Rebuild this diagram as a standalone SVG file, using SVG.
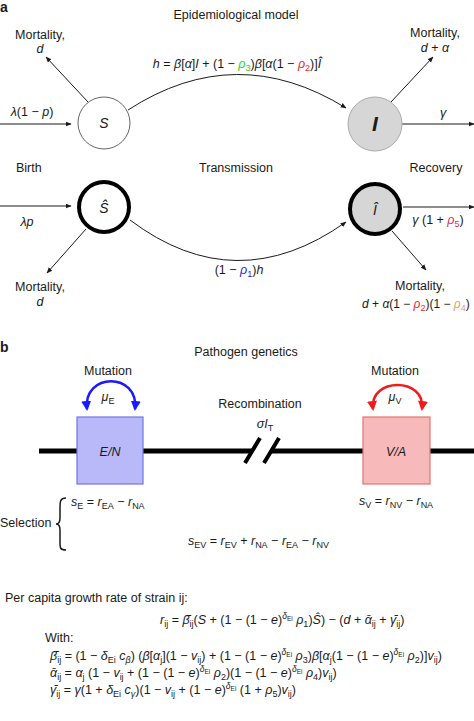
<svg xmlns="http://www.w3.org/2000/svg" width="474" height="721" viewBox="0 0 474 721">
<style>
text{font-family:"Liberation Sans",Arial,sans-serif;font-size:12.5px;fill:#1a1a1a}
.i{font-style:italic}
.n{font-style:normal}
.b{font-weight:bold;font-size:14px}
.m{text-anchor:middle}
.e{text-anchor:end}
.sb{font-size:9px;baseline-shift:-3px}
.sp{font-size:8.5px;baseline-shift:5px}
.sb2{font-size:6.5px;baseline-shift:-2px;font-style:normal}
.c{fill:none;stroke:#1a1a1a;stroke-width:1}
.g{fill:#2bd12b}.r{fill:#e8262e}.bl{fill:#2a2ad0}.p5{fill:#d0306a}.p4{fill:#e0a060}
</style>
<defs>
<marker id="ah" viewBox="0 0 10 10" refX="9" refY="5" markerWidth="6" markerHeight="6" markerUnits="userSpaceOnUse" orient="auto"><path d="M0,1 L10,5 L0,9 z" fill="#1a1a1a"/></marker>
<marker id="ab" viewBox="0 0 10 10" refX="8" refY="5" markerWidth="4" markerHeight="4" orient="auto-start-reverse"><path d="M0,0 L10,5 L0,10 z" fill="#1a1aff"/></marker>
<marker id="ar" viewBox="0 0 10 10" refX="8" refY="5" markerWidth="4" markerHeight="4" orient="auto-start-reverse"><path d="M0,0 L10,5 L0,10 z" fill="#ee1c1c"/></marker>
</defs>

<!-- Panel a -->
<text x="0" y="12" class="b">a</text>
<text x="236" y="19" class="m">Epidemiological model</text>
<text x="16" y="172">Birth</text>
<text x="236" y="172" class="m">Transmission</text>
<text x="436" y="172" class="m">Recovery</text>

<g id="connectors">
<path class="c" d="M0,124 L71,124" marker-end="url(#ah)"/>
<path class="c" d="M88,102 L46,57" marker-end="url(#ah)"/>
<path class="c" d="M128,110 Q236,40 346,108" marker-end="url(#ah)"/>
<path class="c" d="M391,102 L433,57" marker-end="url(#ah)"/>
<path class="c" d="M402,124 L474,124" marker-end="url(#ah)"/>
<path class="c" d="M0,206 L71,206" marker-end="url(#ah)"/>
<path class="c" d="M86,229 L47,273" marker-end="url(#ah)"/>
<path class="c" d="M130,220 Q236,300 346,222" marker-end="url(#ah)"/>
<path class="c" d="M403,207 L474,207" marker-end="url(#ah)"/>
<path class="c" d="M392,231 L426,270" marker-end="url(#ah)"/>
</g>

<g id="S"><circle cx="104" cy="123" r="26" fill="#fff" stroke="#666" stroke-width="1"/><text x="104" y="128" class="m i" style="font-size:14px">S</text></g>
<g id="I"><circle cx="375" cy="124" r="27" fill="#d6d6d6" stroke="#aaa" stroke-width="1"/><text x="375" y="131" class="m i" style="font-size:21px;font-weight:bold">I</text></g>
<g id="Shat"><circle cx="104" cy="207" r="25" fill="#fff" stroke="#000" stroke-width="4"/><text x="104" y="213" class="m i" style="font-size:14px">Ŝ</text></g>
<g id="Ihat"><circle cx="375" cy="209" r="25" fill="#d6d6d6" stroke="#000" stroke-width="4"/><text x="375" y="215" class="m i" style="font-size:14px">Î</text></g>

<text x="40" y="39" class="m">Mortality,</text>
<text x="40" y="53" class="m i">d</text>
<text x="32" y="116" class="m"><tspan class="i">λ</tspan>(1 − <tspan class="i">p</tspan>)</text>
<text x="237" y="68" class="m"><tspan class="i">h</tspan> = <tspan class="i">β</tspan>[<tspan class="i">α</tspan>]<tspan class="i">I</tspan> + (1 − <tspan class="i g">ρ</tspan><tspan class="sb g">3</tspan>)<tspan class="i">β</tspan>[<tspan class="i">α</tspan>(1 − <tspan class="i r">ρ</tspan><tspan class="sb r">2</tspan>)]<tspan class="i">Î</tspan></text>
<text x="435" y="37" class="m">Mortality,</text>
<text x="435" y="52" class="m"><tspan class="i">d</tspan> + <tspan class="i">α</tspan></text>
<text x="443" y="117" class="m i">γ</text>
<text x="27" y="226" class="m"><tspan class="i">λp</tspan></text>
<text x="40" y="291" class="m">Mortality,</text>
<text x="40" y="306" class="m i">d</text>
<text x="239" y="274" class="m">(1 − <tspan class="i bl">ρ</tspan><tspan class="sb bl">1</tspan>)<tspan class="i">h</tspan></text>
<text x="438" y="224" class="m"><tspan class="i">γ</tspan> (1 + <tspan class="i p5">ρ</tspan><tspan class="sb p5">5</tspan>)</text>
<text x="420" y="290" class="m">Mortality,</text>
<text x="362" y="308" style="font-size:12px"><tspan class="i">d</tspan> + <tspan class="i">α</tspan>(1 − <tspan class="i r">ρ</tspan><tspan class="sb r">2</tspan>)(1 − <tspan class="i p4">ρ</tspan><tspan class="sb p4">4</tspan>)</text>

<!-- Panel b -->
<text x="0" y="352" class="b">b</text>
<text x="246" y="356" class="m">Pathogen genetics</text>
<text x="108" y="375" class="m">Mutation</text>
<text x="395" y="375" class="m">Mutation</text>
<text x="260" y="408" class="m">Recombination</text>

<g id="chromosome">
<path d="M39,451 L253,451 M271,451 L474,451" stroke="#000" stroke-width="5" fill="none"/>
<path d="M245,463 L260,438 M264,463 L279,438" stroke="#000" stroke-width="4" fill="none"/>
</g>
<text x="265" y="428" class="m"><tspan class="i">σI</tspan><tspan class="sb">T</tspan></text>

<g id="mutE">
<path d="M87,409 C83,372 139,372 135,409" fill="none" stroke="#1a1aff" stroke-width="2.5" marker-start="url(#ab)" marker-end="url(#ab)"/>
<text x="108" y="401" class="m"><tspan class="i">μ</tspan><tspan class="sb">E</tspan></text>
</g>
<g id="EN"><rect x="77" y="417" width="66" height="67" fill="#b9b9f9" stroke="#7272e4" stroke-width="1.2"/><text x="110" y="456" class="m i">E/N</text></g>

<g id="mutV">
<path d="M373,409 C369,377 426,377 422,409" fill="none" stroke="#ee1c1c" stroke-width="2.5" marker-start="url(#ar)" marker-end="url(#ar)"/>
<text x="395" y="401" class="m"><tspan class="i">μ</tspan><tspan class="sb">V</tspan></text>
</g>
<g id="VA"><rect x="363" y="417" width="67" height="67" fill="#f7b9b9" stroke="#e47272" stroke-width="1.2"/><text x="396" y="456" class="m i">V/A</text></g>

<text x="0" y="527">Selection</text>
<path d="M66,498 C60,498 60,502 60,508 L60,518 C60,522 58,524 56,524 C58,524 60,526 60,530 L60,542 C60,548 60,550 66,550" fill="none" stroke="#1a1a1a" stroke-width="1.5"/>
<text x="71" y="506"><tspan class="i">s</tspan><tspan class="sb">E</tspan> = <tspan class="i">r</tspan><tspan class="sb">EA</tspan> − <tspan class="i">r</tspan><tspan class="sb">NA</tspan></text>
<text x="359" y="505"><tspan class="i">s</tspan><tspan class="sb">V</tspan> = <tspan class="i">r</tspan><tspan class="sb">NV</tspan> − <tspan class="i">r</tspan><tspan class="sb">NA</tspan></text>
<text x="188" y="545"><tspan class="i">s</tspan><tspan class="sb">EV</tspan> = <tspan class="i">r</tspan><tspan class="sb">EV</tspan> + <tspan class="i">r</tspan><tspan class="sb">NA</tspan> − <tspan class="i">r</tspan><tspan class="sb">EA</tspan> − <tspan class="i">r</tspan><tspan class="sb">NV</tspan></text>

<text x="5" y="602">Per capita growth rate of strain ij:</text>
<text x="160" y="624"><tspan class="i">r</tspan><tspan class="sb">ij</tspan> = <tspan class="i">β̄</tspan><tspan class="sb">ij</tspan>(<tspan class="i">S</tspan> + (1 − (1 − <tspan class="i">e</tspan>)<tspan class="sp i">δ<tspan class="sb2">Ei</tspan></tspan> <tspan class="i">ρ</tspan><tspan class="sb">1</tspan>)<tspan class="i">Ŝ</tspan>) − (<tspan class="i">d</tspan> + <tspan class="i">ᾱ</tspan><tspan class="sb">ij</tspan> + <tspan class="i">γ̄</tspan><tspan class="sb">ij</tspan>)</text>
<text x="45" y="642">With:</text>
<text x="50" y="660"><tspan class="i">β̄</tspan><tspan class="sb">ij</tspan> = (1 − <tspan class="i">δ</tspan><tspan class="sb">Ei</tspan> <tspan class="i">c</tspan><tspan class="sb i">β</tspan>) (<tspan class="i">β</tspan>[<tspan class="i">α</tspan><tspan class="sb">j</tspan>](1 − <tspan class="i">v</tspan><tspan class="sb">ij</tspan>) + (1 − (1 − <tspan class="i">e</tspan>)<tspan class="sp i">δ<tspan class="sb2">Ei</tspan></tspan> <tspan class="i">ρ</tspan><tspan class="sb">3</tspan>)<tspan class="i">β</tspan>[<tspan class="i">α</tspan><tspan class="sb">j</tspan>(1 − (1 − <tspan class="i">e</tspan>)<tspan class="sp i">δ<tspan class="sb2">Ei</tspan></tspan> <tspan class="i">ρ</tspan><tspan class="sb">2</tspan>)]<tspan class="i">v</tspan><tspan class="sb">ij</tspan>)</text>
<text x="50" y="677"><tspan class="i">ᾱ</tspan><tspan class="sb">ij</tspan> = <tspan class="i">α</tspan><tspan class="sb">j</tspan> (1 − <tspan class="i">v</tspan><tspan class="sb">ij</tspan> + (1 − (1 − <tspan class="i">e</tspan>)<tspan class="sp i">δ<tspan class="sb2">Ei</tspan></tspan> <tspan class="i">ρ</tspan><tspan class="sb">2</tspan>)(1 − (1 − <tspan class="i">e</tspan>)<tspan class="sp i">δ<tspan class="sb2">Ei</tspan></tspan> <tspan class="i">ρ</tspan><tspan class="sb">4</tspan>)<tspan class="i">v</tspan><tspan class="sb">ij</tspan>)</text>
<text x="50" y="694"><tspan class="i">γ̄</tspan><tspan class="sb">ij</tspan> = <tspan class="i">γ</tspan>(1 + <tspan class="i">δ</tspan><tspan class="sb">Ei</tspan> <tspan class="i">c</tspan><tspan class="sb i">γ</tspan>)(1 − <tspan class="i">v</tspan><tspan class="sb">ij</tspan> + (1 − <tspan class="i">e</tspan>)<tspan class="sp i">δ<tspan class="sb2">Ei</tspan></tspan> (1 + <tspan class="i">ρ</tspan><tspan class="sb">5</tspan>)<tspan class="i">v</tspan><tspan class="sb">ij</tspan>)</text>
</svg>
